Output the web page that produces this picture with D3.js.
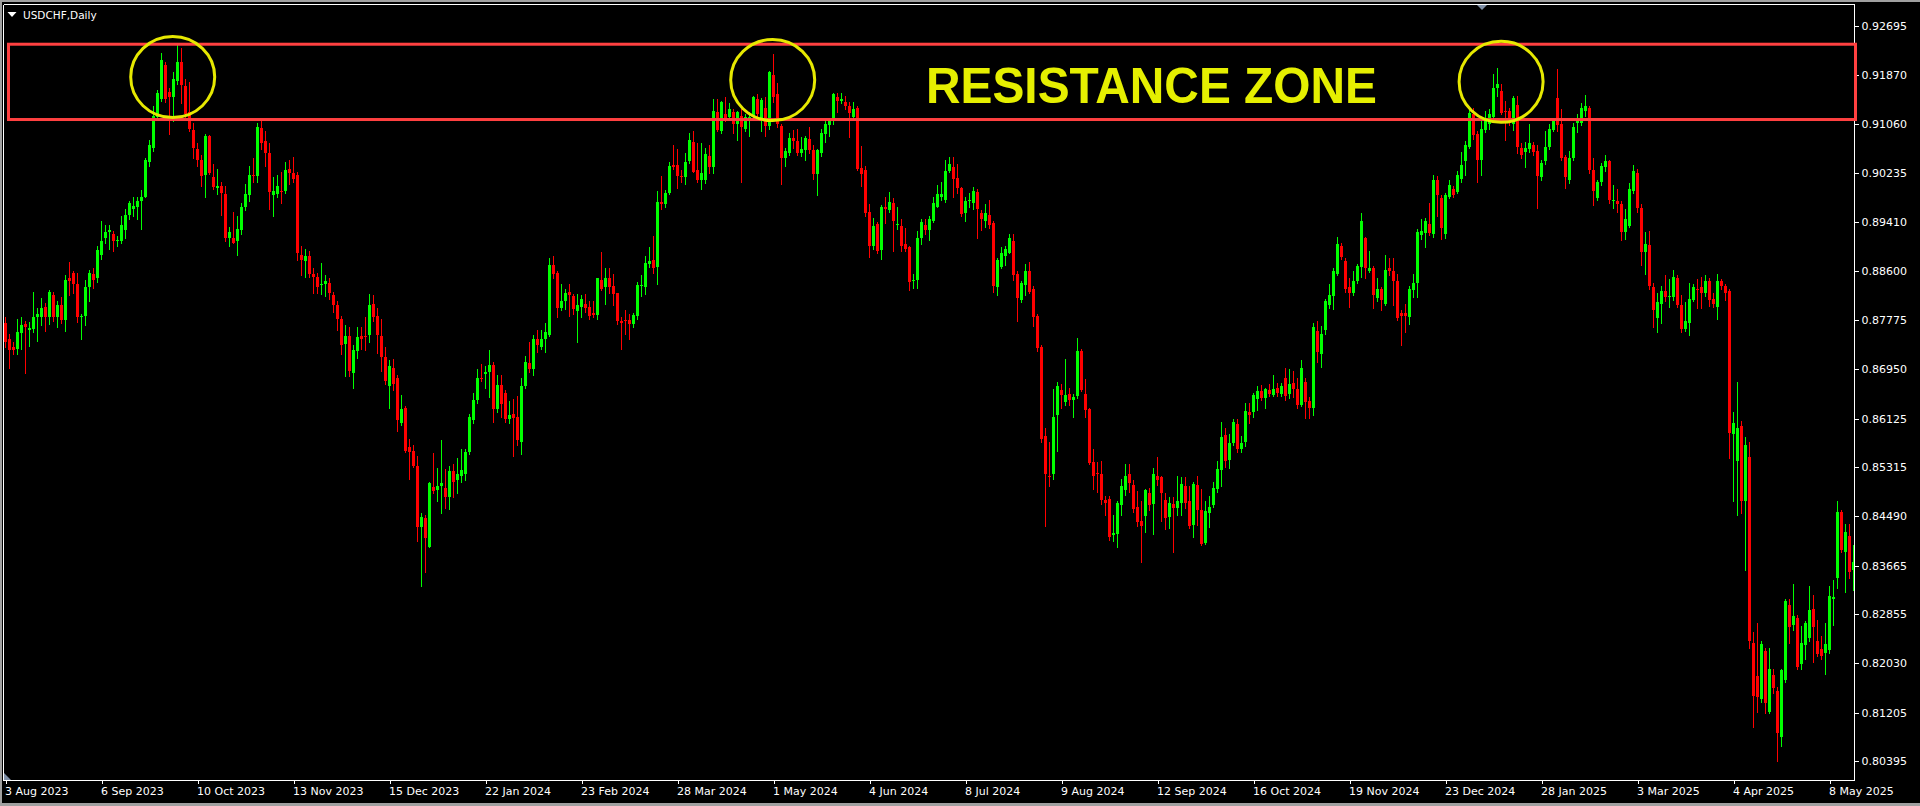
<!DOCTYPE html>
<html><head><meta charset="utf-8">
<script src="https://cdn.jsdelivr.net/npm/d3@7"></script>
<style>html,body{margin:0;padding:0;background:#000;overflow:hidden}</style>
</head><body>
<svg id="c" width="1920" height="806"></svg>
<script>
const symbolLabel = "USDCHF,Daily";
const zoneLabel = "RESISTANCE ZONE";
const priceTicks = [0.92695,0.91870,0.91060,0.90235,0.89410,0.88600,0.87775,0.86950,0.86125,0.85315,0.84490,0.83665,0.82855,0.82030,0.81205,0.80395];
const dateTickLabels = ["3 Aug 2023","6 Sep 2023","10 Oct 2023","13 Nov 2023","15 Dec 2023","22 Jan 2024","23 Feb 2024","28 Mar 2024","1 May 2024","4 Jun 2024","8 Jul 2024","9 Aug 2024","12 Sep 2024","16 Oct 2024","19 Nov 2024","23 Dec 2024","28 Jan 2025","3 Mar 2025","4 Apr 2025","8 May 2025"];
const dateTickBars = [0,24,48,72,96,120,144,168,192,216,240,264,288,312,336,360,384,408,432,456];
const zoneTop = 0.9239;
const zoneBottom = 0.9113;
const circleBars = [41.8, 191.8, 373.9];
const circlePrices = [0.9184, 0.9179, 0.9176];

const opens = [
0.8772,0.8746,0.8732,0.8729,0.8755,0.8771,0.8760,0.8762,0.8782,0.8782,
0.8800,0.8782,0.8819,0.8782,0.8802,0.8777,0.8847,0.8856,0.8837,0.8782,
0.8784,0.8833,0.8855,0.8847,0.8887,0.8914,0.8924,0.8922,0.8909,0.8909,
0.8928,0.8954,0.8964,0.8967,0.8977,0.8984,0.9042,0.9065,0.9118,0.9147,
0.9204,0.9159,0.9150,0.9178,0.9210,0.9169,0.9125,0.9096,0.9063,0.9045,
0.9020,0.9085,0.9017,0.8998,0.9001,0.8989,0.8915,0.8915,0.8909,0.8928,
0.8967,0.8986,0.9020,0.9019,0.9099,0.9077,0.9057,0.8986,0.8988,0.8994,
0.8994,0.9031,0.9024,0.9020,0.8887,0.8876,0.8884,0.8854,0.8849,0.8836,
0.8837,0.8839,0.8819,0.8803,0.8779,0.8738,0.8751,0.8689,0.8726,0.8751,
0.8751,0.8753,0.8805,0.8784,0.8750,0.8715,0.8667,0.8697,0.8681,0.8605,
0.8630,0.8565,0.8559,0.8534,0.8431,0.8446,0.8398,0.8498,0.8493,0.8499,
0.8497,0.8481,0.8525,0.8509,0.8517,0.8519,0.8556,0.8610,0.8644,0.8681,
0.8687,0.8691,0.8702,0.8629,0.8669,0.8655,0.8611,0.8621,0.8616,0.8573,
0.8667,0.8706,0.8696,0.8746,0.8733,0.8746,0.8753,0.8870,0.8856,0.8797,
0.8810,0.8825,0.8817,0.8792,0.8800,0.8805,0.8800,0.8790,0.8786,0.8845,
0.8833,0.8848,0.8834,0.8822,0.8776,0.8777,0.8777,0.8771,0.8785,0.8834,
0.8833,0.8871,0.8878,0.8867,0.8975,0.8972,0.8990,0.9037,0.9037,0.9019,
0.9017,0.9044,0.9076,0.9029,0.9011,0.9011,0.9052,0.9034,0.9125,0.9093,
0.9122,0.9118,0.9126,0.9105,0.9119,0.9097,0.9114,0.9118,0.9148,0.9116,
0.9133,0.9102,0.9187,0.9156,0.9102,0.9048,0.9057,0.9082,0.9077,0.9057,
0.9062,0.9081,0.9062,0.9021,0.9057,0.9088,0.9104,0.9113,0.9151,0.9144,
0.9143,0.9136,0.9118,0.9133,0.9032,0.9029,0.8959,0.8901,0.8938,0.8895,
0.8967,0.8961,0.8974,0.8936,0.8935,0.8904,0.8899,0.8842,0.8844,0.8914,
0.8936,0.8928,0.8943,0.8967,0.8984,0.8978,0.9027,0.9034,0.9015,0.8998,
0.8957,0.8977,0.8974,0.8992,0.8957,0.8943,0.8953,0.8940,0.8833,0.8867,
0.8885,0.8890,0.8910,0.8854,0.8811,0.8836,0.8860,0.8829,0.8785,0.8732,
0.8584,0.8517,0.8520,0.8619,0.8661,0.8641,0.8654,0.8644,0.8650,0.8726,
0.8654,0.8629,0.8540,0.8522,0.8520,0.8477,0.8478,0.8418,0.8420,0.8468,
0.8493,0.8520,0.8501,0.8464,0.8441,0.8449,0.8488,0.8469,0.8517,0.8514,
0.8477,0.8447,0.8470,0.8463,0.8472,0.8500,0.8475,0.8435,0.8501,0.8460,
0.8404,0.8455,0.8468,0.8495,0.8526,0.8585,0.8543,0.8571,0.8604,0.8561,
0.8574,0.8624,0.8623,0.8646,0.8658,0.8647,0.8660,0.8652,0.8664,0.8654,
0.8681,0.8654,0.8672,0.8662,0.8636,0.8673,0.8642,0.8630,0.8759,0.8720,
0.8760,0.8802,0.8817,0.8854,0.8902,0.8876,0.8833,0.8822,0.8842,0.8867,
0.8914,0.8860,0.8865,0.8815,0.8829,0.8805,0.8864,0.8860,0.8843,0.8789,
0.8789,0.8783,0.8827,0.8840,0.8919,0.8923,0.8938,0.8921,0.9012,0.8981,
0.8921,0.8984,0.8996,0.8992,0.9014,0.9043,0.9067,0.9122,0.9089,0.9046,
0.9095,0.9106,0.9118,0.9166,0.9160,0.9127,0.9127,0.9106,0.9138,0.9065,
0.9059,0.9063,0.9071,0.9061,0.9016,0.9043,0.9067,0.9095,0.9149,0.9106,
0.9051,0.9011,0.9049,0.9108,0.9108,0.9127,0.9132,0.9028,0.8981,0.9008,
0.9033,0.9043,0.8976,0.8976,0.8972,0.8925,0.8935,0.8994,0.9024,0.8965,
0.8891,0.8903,0.8832,0.8781,0.8805,0.8826,0.8816,0.8816,0.8848,0.8803,
0.8762,0.8773,0.8811,0.8830,0.8832,0.8822,0.8843,0.8813,0.8800,0.8842,
0.8835,0.8826,0.8586,0.8542,0.8600,0.8475,0.8548,0.8237,0.8181,0.8144,
0.8224,0.8121,0.8183,0.8156,0.8079,0.8175,0.8300,0.8267,0.8278,0.8201,
0.8233,0.8245,0.8294,0.8241,0.8227,0.8221,0.8225,0.8310,0.8345,0.8456,
0.8389,0.8416,0.8359];

const closes = [
0.8741,0.8727,0.8727,0.8757,0.8769,0.8766,0.8764,0.8782,0.8788,0.8797,
0.8782,0.8825,0.8782,0.8803,0.8777,0.8844,0.8842,0.8837,0.8782,0.8785,
0.8833,0.8856,0.8844,0.8895,0.8910,0.8924,0.8928,0.8909,0.8912,0.8936,
0.8954,0.8974,0.8969,0.8977,0.8984,0.9045,0.9070,0.9119,0.9158,0.9212,
0.9147,0.9150,0.9181,0.9210,0.9170,0.9122,0.9097,0.9065,0.9045,0.9019,
0.9085,0.9023,0.9000,0.9001,0.8990,0.8915,0.8924,0.8907,0.8930,0.8967,
0.8989,0.9020,0.9019,0.9100,0.9073,0.9057,0.8992,0.8993,0.9001,0.8992,
0.9029,0.9023,0.9014,0.8889,0.8878,0.8885,0.8854,0.8849,0.8833,0.8838,
0.8842,0.8823,0.8802,0.8779,0.8735,0.8751,0.8692,0.8727,0.8749,0.8746,
0.8749,0.8802,0.8783,0.8753,0.8715,0.8675,0.8701,0.8670,0.8610,0.8629,
0.8559,0.8557,0.8534,0.8431,0.8447,0.8412,0.8504,0.8491,0.8500,0.8505,
0.8481,0.8524,0.8507,0.8520,0.8526,0.8557,0.8615,0.8644,0.8681,0.8678,
0.8690,0.8703,0.8629,0.8669,0.8637,0.8611,0.8619,0.8613,0.8577,0.8667,
0.8707,0.8696,0.8745,0.8735,0.8746,0.8757,0.8870,0.8854,0.8797,0.8810,
0.8823,0.8819,0.8796,0.8803,0.8813,0.8798,0.8784,0.8786,0.8847,0.8829,
0.8848,0.8833,0.8821,0.8776,0.8772,0.8776,0.8771,0.8786,0.8836,0.8836,
0.8873,0.8876,0.8864,0.8975,0.8972,0.8990,0.9035,0.9034,0.9019,0.9017,
0.9042,0.9079,0.9026,0.9011,0.9023,0.9056,0.9034,0.9128,0.9096,0.9143,
0.9116,0.9130,0.9105,0.9125,0.9100,0.9118,0.9118,0.9151,0.9122,0.9145,
0.9102,0.9193,0.9150,0.9105,0.9048,0.9060,0.9082,0.9077,0.9057,0.9063,
0.9082,0.9062,0.9021,0.9062,0.9091,0.9105,0.9110,0.9156,0.9144,0.9147,
0.9135,0.9124,0.9131,0.9031,0.9021,0.8957,0.8901,0.8935,0.8893,0.8966,
0.8963,0.8975,0.8943,0.8938,0.8901,0.8896,0.8841,0.8844,0.8914,0.8941,
0.8928,0.8947,0.8974,0.8989,0.8988,0.9027,0.9039,0.9013,0.8998,0.8955,
0.8977,0.8978,0.8994,0.8963,0.8946,0.8957,0.8936,0.8834,0.8878,0.8889,
0.8896,0.8914,0.8853,0.8815,0.8839,0.8860,0.8825,0.8782,0.8730,0.8579,
0.8520,0.8514,0.8616,0.8667,0.8652,0.8652,0.8644,0.8649,0.8726,0.8661,
0.8627,0.8538,0.8517,0.8520,0.8477,0.8472,0.8415,0.8421,0.8472,0.8499,
0.8516,0.8505,0.8462,0.8439,0.8433,0.8493,0.8468,0.8520,0.8509,0.8488,
0.8446,0.8472,0.8463,0.8475,0.8503,0.8472,0.8432,0.8503,0.8460,0.8402,
0.8458,0.8464,0.8497,0.8528,0.8581,0.8542,0.8571,0.8607,0.8561,0.8571,
0.8625,0.8619,0.8652,0.8658,0.8647,0.8662,0.8654,0.8662,0.8656,0.8667,
0.8650,0.8670,0.8662,0.8636,0.8697,0.8641,0.8631,0.8766,0.8724,0.8754,
0.8810,0.8819,0.8859,0.8904,0.8883,0.8829,0.8822,0.8842,0.8868,0.8943,
0.8865,0.8865,0.8819,0.8829,0.8811,0.8862,0.8860,0.8843,0.8781,0.8785,
0.8785,0.8830,0.8840,0.8925,0.8927,0.8943,0.8923,0.9012,0.8986,0.8931,
0.8986,0.9004,0.8986,0.9020,0.9037,0.9071,0.9124,0.9087,0.9045,0.9097,
0.9111,0.9122,0.9165,0.9173,0.9124,0.9126,0.9108,0.9149,0.9067,0.9054,
0.9065,0.9073,0.9059,0.9019,0.9041,0.9067,0.9097,0.9110,0.9103,0.9049,
0.9016,0.9049,0.9100,0.9114,0.9132,0.9136,0.9028,0.8994,0.9008,0.9035,
0.9043,0.8978,0.8978,0.8972,0.8925,0.8946,0.8996,0.9027,0.8965,0.8892,
0.8905,0.8834,0.8795,0.8808,0.8826,0.8816,0.8817,0.8850,0.8803,0.8762,
0.8775,0.8813,0.8832,0.8827,0.8822,0.8843,0.8811,0.8805,0.8842,0.8834,
0.8822,0.8589,0.8605,0.8597,0.8475,0.8568,0.8240,0.8148,0.8146,0.8235,
0.8136,0.8193,0.8162,0.8087,0.8191,0.8308,0.8264,0.8282,0.8197,0.8237,
0.8270,0.8292,0.8264,0.8219,0.8215,0.8235,0.8316,0.8314,0.8456,0.8392,
0.8422,0.8355,0.8372];

const highs = [
0.8782,0.8754,0.8741,0.8779,0.8782,0.8776,0.8774,0.8825,0.8797,0.8815,
0.8806,0.8828,0.8825,0.8810,0.8816,0.8853,0.8875,0.8859,0.8856,0.8788,
0.8844,0.8862,0.8864,0.8901,0.8943,0.8936,0.8936,0.8926,0.8918,0.8952,
0.8964,0.8977,0.8983,0.8984,0.8995,0.9048,0.9079,0.9135,0.9162,0.9224,
0.9209,0.9165,0.9193,0.9238,0.9232,0.9181,0.9175,0.9107,0.9073,0.9054,
0.9088,0.9087,0.9039,0.9031,0.9008,0.9001,0.8933,0.8958,0.8952,0.8974,
0.9005,0.9035,0.9048,0.9107,0.9110,0.9094,0.9073,0.9017,0.9020,0.9026,
0.9042,0.9045,0.9051,0.9026,0.8902,0.8896,0.8893,0.8865,0.8856,0.8873,
0.8853,0.8847,0.8825,0.8810,0.8785,0.8769,0.8766,0.8735,0.8766,0.8766,
0.8782,0.8821,0.8819,0.8797,0.8779,0.8732,0.8711,0.8712,0.8686,0.8652,
0.8633,0.8579,0.8568,0.8550,0.8454,0.8451,0.8506,0.8555,0.8530,0.8577,
0.8528,0.8534,0.8537,0.8546,0.8562,0.8562,0.8621,0.8655,0.8695,0.8704,
0.8701,0.8728,0.8707,0.8685,0.8685,0.8661,0.8642,0.8646,0.8650,0.8681,
0.8718,0.8741,0.8753,0.8761,0.8761,0.8772,0.8881,0.8885,0.8859,0.8837,
0.8829,0.8837,0.8821,0.8821,0.8819,0.8821,0.8810,0.8810,0.8848,0.8891,
0.8864,0.8865,0.8854,0.8823,0.8782,0.8794,0.8788,0.8790,0.8841,0.8853,
0.8885,0.8899,0.8918,0.8994,0.9019,0.8995,0.9042,0.9071,0.9063,0.9029,
0.9057,0.9091,0.9094,0.9074,0.9073,0.9066,0.9070,0.9147,0.9147,0.9144,
0.9150,0.9141,0.9130,0.9128,0.9130,0.9122,0.9126,0.9153,0.9156,0.9149,
0.9151,0.9195,0.9223,0.9174,0.9105,0.9066,0.9091,0.9096,0.9097,0.9083,
0.9085,0.9100,0.9070,0.9063,0.9097,0.9114,0.9116,0.9157,0.9157,0.9157,
0.9153,0.9143,0.9143,0.9135,0.9068,0.9035,0.8972,0.8949,0.8941,0.8970,
0.8983,0.8992,0.8982,0.8967,0.8946,0.8932,0.8901,0.8854,0.8926,0.8947,
0.8946,0.8952,0.8983,0.9003,0.9009,0.9045,0.9050,0.9051,0.9039,0.9000,
0.8983,0.8990,0.9000,0.8996,0.8961,0.8972,0.8978,0.8943,0.8881,0.8899,
0.8901,0.8922,0.8921,0.8859,0.8842,0.8871,0.8875,0.8834,0.8788,0.8735,
0.8596,0.8573,0.8662,0.8673,0.8670,0.8712,0.8664,0.8654,0.8748,0.8729,
0.8678,0.8631,0.8562,0.8540,0.8542,0.8483,0.8483,0.8451,0.8474,0.8512,
0.8537,0.8537,0.8509,0.8491,0.8475,0.8495,0.8497,0.8530,0.8548,0.8517,
0.8488,0.8481,0.8481,0.8516,0.8514,0.8514,0.8500,0.8507,0.8516,0.8494,
0.8474,0.8483,0.8507,0.8542,0.8607,0.8596,0.8587,0.8611,0.8611,0.8584,
0.8639,0.8639,0.8656,0.8667,0.8668,0.8664,0.8670,0.8685,0.8672,0.8672,
0.8698,0.8695,0.8692,0.8681,0.8711,0.8681,0.8649,0.8772,0.8776,0.8767,
0.8813,0.8837,0.8864,0.8916,0.8907,0.8881,0.8847,0.8860,0.8871,0.8957,
0.8916,0.8893,0.8868,0.8848,0.8833,0.8886,0.8882,0.8881,0.8854,0.8795,
0.8805,0.8835,0.8854,0.8929,0.8946,0.8949,0.8973,0.9020,0.9019,0.8986,
0.8990,0.9012,0.9002,0.9027,0.9059,0.9077,0.9132,0.9132,0.9093,0.9114,
0.9127,0.9130,0.9189,0.9200,0.9173,0.9144,0.9132,0.9152,0.9152,0.9073,
0.9076,0.9106,0.9076,0.9071,0.9045,0.9093,0.9106,0.9116,0.9197,0.9130,
0.9054,0.9061,0.9108,0.9122,0.9140,0.9154,0.9136,0.9049,0.9011,0.9041,
0.9053,0.9045,0.9004,0.8996,0.8976,0.8964,0.9006,0.9037,0.9030,0.8972,
0.8925,0.8926,0.8840,0.8822,0.8835,0.8852,0.8846,0.8862,0.8852,0.8819,
0.8808,0.8840,0.8838,0.8846,0.8850,0.8852,0.8848,0.8822,0.8854,0.8846,
0.8838,0.8830,0.8624,0.8673,0.8608,0.8582,0.8574,0.8256,0.8270,0.8240,
0.8229,0.8229,0.8194,0.8164,0.8193,0.8310,0.8310,0.8335,0.8284,0.8266,
0.8274,0.8332,0.8318,0.8275,0.8248,0.8270,0.8332,0.8343,0.8475,0.8460,
0.8436,0.8436,0.8401];

const lows = [
0.8732,0.8698,0.8720,0.8720,0.8729,0.8689,0.8734,0.8757,0.8743,0.8769,
0.8759,0.8771,0.8776,0.8765,0.8772,0.8759,0.8819,0.8822,0.8774,0.8745,
0.8769,0.8810,0.8831,0.8841,0.8879,0.8906,0.8896,0.8893,0.8902,0.8906,
0.8915,0.8946,0.8952,0.8946,0.8930,0.8983,0.9035,0.9060,0.9113,0.9144,
0.9143,0.9088,0.9110,0.9172,0.9141,0.9118,0.9094,0.9048,0.9035,0.9001,
0.8984,0.9021,0.8996,0.8988,0.8953,0.8909,0.8902,0.8906,0.8887,0.8921,
0.8961,0.8977,0.9008,0.9008,0.9063,0.9035,0.8964,0.8952,0.8983,0.8974,
0.8990,0.9005,0.9008,0.8878,0.8853,0.8850,0.8850,0.8823,0.8822,0.8821,
0.8817,0.8813,0.8791,0.8760,0.8720,0.8683,0.8683,0.8664,0.8714,0.8729,
0.8728,0.8741,0.8776,0.8723,0.8692,0.8670,0.8630,0.8661,0.8592,0.8602,
0.8556,0.8512,0.8531,0.8407,0.8333,0.8355,0.8398,0.8488,0.8475,0.8454,
0.8463,0.8462,0.8481,0.8488,0.8506,0.8509,0.8553,0.8605,0.8639,0.8675,
0.8664,0.8649,0.8607,0.8623,0.8615,0.8607,0.8605,0.8550,0.8569,0.8553,
0.8663,0.8691,0.8686,0.8724,0.8729,0.8724,0.8751,0.8847,0.8782,0.8794,
0.8796,0.8785,0.8788,0.8741,0.8782,0.8791,0.8779,0.8782,0.8779,0.8827,
0.8805,0.8823,0.8803,0.8771,0.8729,0.8754,0.8746,0.8765,0.8780,0.8817,
0.8821,0.8866,0.8856,0.8837,0.8964,0.8967,0.8988,0.9031,0.8998,0.9009,
0.9005,0.9040,0.9025,0.9008,0.8996,0.9006,0.9023,0.9023,0.9093,0.9091,
0.9110,0.9114,0.9091,0.9079,0.9009,0.9094,0.9085,0.9112,0.9113,0.9094,
0.9085,0.9097,0.9143,0.9100,0.9005,0.9035,0.9054,0.9066,0.9054,0.9052,
0.9045,0.9057,0.9013,0.8986,0.9052,0.9076,0.9085,0.9105,0.9125,0.9141,
0.9130,0.9083,0.9114,0.9029,0.9001,0.8952,0.8883,0.8896,0.8890,0.8879,
0.8940,0.8958,0.8893,0.8930,0.8893,0.8893,0.8827,0.8831,0.8831,0.8904,
0.8922,0.8912,0.8941,0.8966,0.8978,0.8975,0.9025,0.8984,0.8990,0.8952,
0.8943,0.8967,0.8963,0.8914,0.8928,0.8933,0.8932,0.8825,0.8819,0.8865,
0.8870,0.8889,0.8844,0.8776,0.8808,0.8819,0.8822,0.8767,0.8726,0.8573,
0.8432,0.8500,0.8512,0.8559,0.8631,0.8636,0.8636,0.8616,0.8647,0.8658,
0.8615,0.8537,0.8494,0.8489,0.8469,0.8452,0.8410,0.8408,0.8398,0.8451,
0.8485,0.8489,0.8457,0.8432,0.8373,0.8423,0.8460,0.8420,0.8501,0.8441,
0.8427,0.8429,0.8390,0.8451,0.8451,0.8463,0.8429,0.8415,0.8435,0.8401,
0.8402,0.8431,0.8464,0.8489,0.8499,0.8531,0.8530,0.8568,0.8556,0.8557,
0.8567,0.8605,0.8615,0.8627,0.8644,0.8631,0.8650,0.8650,0.8650,0.8650,
0.8644,0.8647,0.8649,0.8631,0.8633,0.8613,0.8613,0.8618,0.8707,0.8699,
0.8754,0.8797,0.8796,0.8852,0.8879,0.8825,0.8800,0.8819,0.8839,0.8850,
0.8847,0.8858,0.8797,0.8810,0.8794,0.8803,0.8852,0.8803,0.8777,0.8735,
0.8757,0.8770,0.8816,0.8816,0.8913,0.8899,0.8919,0.8916,0.8951,0.8913,
0.8915,0.8981,0.8984,0.8990,0.9008,0.9020,0.9065,0.9081,0.9008,0.9020,
0.9092,0.9097,0.9114,0.9152,0.9122,0.9079,0.9103,0.9095,0.9057,0.9049,
0.9033,0.9059,0.9054,0.8965,0.9011,0.9038,0.9063,0.9093,0.9093,0.9045,
0.8998,0.9006,0.9045,0.9092,0.9103,0.9119,0.9024,0.8970,0.8978,0.9004,
0.9027,0.8973,0.8965,0.8959,0.8911,0.8913,0.8933,0.8990,0.8959,0.8870,
0.8854,0.8830,0.8765,0.8757,0.8773,0.8809,0.8800,0.8811,0.8800,0.8757,
0.8759,0.8753,0.8809,0.8797,0.8797,0.8817,0.8801,0.8800,0.8779,0.8830,
0.8811,0.8546,0.8475,0.8451,0.8454,0.8359,0.8229,0.8097,0.8121,0.8138,
0.8120,0.8120,0.8154,0.8039,0.8065,0.8172,0.8237,0.8259,0.8194,0.8194,
0.8211,0.8241,0.8205,0.8215,0.8211,0.8185,0.8221,0.8267,0.8329,0.8389,
0.8323,0.8345,0.8325];

const W = 1920, H = 806;
const plotLeft = 3.5, plotTop = 4.5, plotRight = 1854.5, plotBottom = 780.5;
const bullColor = "#00ff00", bearColor = "#ff0000";
const fgColor = "#ffffff";
const axisFont = "'DejaVu Sans', Verdana, sans-serif";

const svg = d3.select("#c");
const x = d3.scaleLinear().domain([0, opens.length - 1]).range([5.5, 5.5 + 4 * (opens.length - 1)]);
const y = d3.scaleLinear().domain([0.80395, 0.92695]).range([761, 26]);

// window frame
svg.append("rect").attr("x",0).attr("y",0).attr("width",W).attr("height",H).attr("fill","#a0a0a0");
svg.append("rect").attr("x",2).attr("y",2).attr("width",W-2).attr("height",801).attr("fill","#000");

svg.append("defs").append("clipPath").attr("id","plotclip")
  .append("rect").attr("x",plotLeft+0.5).attr("y",plotTop+0.5)
  .attr("width",plotRight-plotLeft-1).attr("height",plotBottom-plotTop-1);

const bars = d3.range(opens.length).map(i => ({i, o:opens[i], h:highs[i], l:lows[i], c:closes[i]}));
const gC = svg.append("g").attr("clip-path","url(#plotclip)").attr("shape-rendering","crispEdges");
gC.selectAll("line.wick").data(bars).join("line").attr("class","wick")
  .attr("x1", d => x(d.i)).attr("x2", d => x(d.i))
  .attr("y1", d => Math.round(y(Math.max(d.h, d.o, d.c))))
  .attr("y2", d => Math.round(y(Math.min(d.l, d.o, d.c))) + 1)
  .attr("stroke", d => d.c >= d.o ? bullColor : bearColor).attr("stroke-width", 1);
gC.selectAll("rect.body").data(bars).join("rect").attr("class","body")
  .attr("x", d => x(d.i) - 1.5).attr("width", 3)
  .attr("y", d => Math.round(y(Math.max(d.o, d.c))))
  .attr("height", d => Math.max(1, Math.round(y(Math.min(d.o, d.c))) - Math.round(y(Math.max(d.o, d.c)))))
  .attr("fill", d => d.c >= d.o ? bullColor : bearColor);

// frame lines
const gF = svg.append("g").attr("stroke", fgColor).attr("stroke-width",1).attr("shape-rendering","crispEdges");
gF.append("line").attr("x1",plotLeft).attr("x2",plotRight).attr("y1",plotTop).attr("y2",plotTop);
gF.append("line").attr("x1",plotLeft).attr("x2",plotLeft).attr("y1",plotTop).attr("y2",plotBottom);
gF.append("line").attr("x1",plotRight).attr("x2",plotRight).attr("y1",plotTop).attr("y2",plotBottom);
gF.append("line").attr("x1",plotLeft).attr("x2",plotRight).attr("y1",plotBottom).attr("y2",plotBottom);

// price axis
const yAxis = d3.axisRight(y).tickValues(priceTicks).tickFormat(d3.format(".5f")).tickSize(4).tickPadding(3);
const gY = svg.append("g").attr("transform", `translate(${plotRight},0)`).call(yAxis);
gY.select(".domain").remove();
gY.selectAll(".tick line").attr("stroke", fgColor).attr("shape-rendering","crispEdges");
gY.selectAll(".tick text").attr("fill", fgColor).attr("font-family", axisFont).attr("font-size", "11px");

// time axis
const xAxis = d3.axisBottom(x).tickValues(dateTickBars).tickFormat((d,k) => dateTickLabels[k]).tickSize(3).tickPadding(4);
const gX = svg.append("g").attr("transform", `translate(0,${plotBottom})`).call(xAxis);
gX.select(".domain").remove();
gX.selectAll(".tick line").attr("stroke", fgColor).attr("shape-rendering","crispEdges");
gX.selectAll(".tick text").attr("fill", fgColor).attr("font-family", axisFont).attr("font-size", "11px")
  .attr("text-anchor","start").attr("dx","-1");

// markers
svg.append("polygon").attr("points","4,773 4,780 11,780").attr("fill","#7f8fa6");
svg.append("polygon").attr("points","1477,5 1487,5 1482,10").attr("fill","#7f8fa6");

// title
svg.append("polygon").attr("points","7.5,12 16.5,12 12,17").attr("fill", fgColor);
svg.append("text").attr("x",23).attr("y",19).attr("fill",fgColor).attr("font-family",axisFont)
  .attr("font-size","10.5px").text(symbolLabel);

// annotations
svg.append("rect").attr("x", x(0.75)).attr("y", y(zoneTop))
  .attr("width", x(462.5) - x(0.75)).attr("height", y(zoneBottom) - y(zoneTop))
  .attr("fill","none").attr("stroke","#ff4040").attr("stroke-width",3);
svg.selectAll("ellipse.hl").data(circleBars).join("ellipse").attr("class","hl")
  .attr("cx", d => x(d)).attr("cy", (d,k) => y(circlePrices[k]))
  .attr("rx", 42).attr("ry", 40.5)
  .attr("fill","none").attr("stroke","#e6e800").attr("stroke-width",3);
svg.append("text").attr("x",926).attr("y",103).attr("fill","#e5ef00")
  .attr("font-family","'Liberation Sans', Arial, sans-serif").attr("font-weight","bold")
  .attr("font-size","50px").attr("textLength",451).attr("lengthAdjust","spacingAndGlyphs")
  .text(zoneLabel);
</script>
</body></html>
